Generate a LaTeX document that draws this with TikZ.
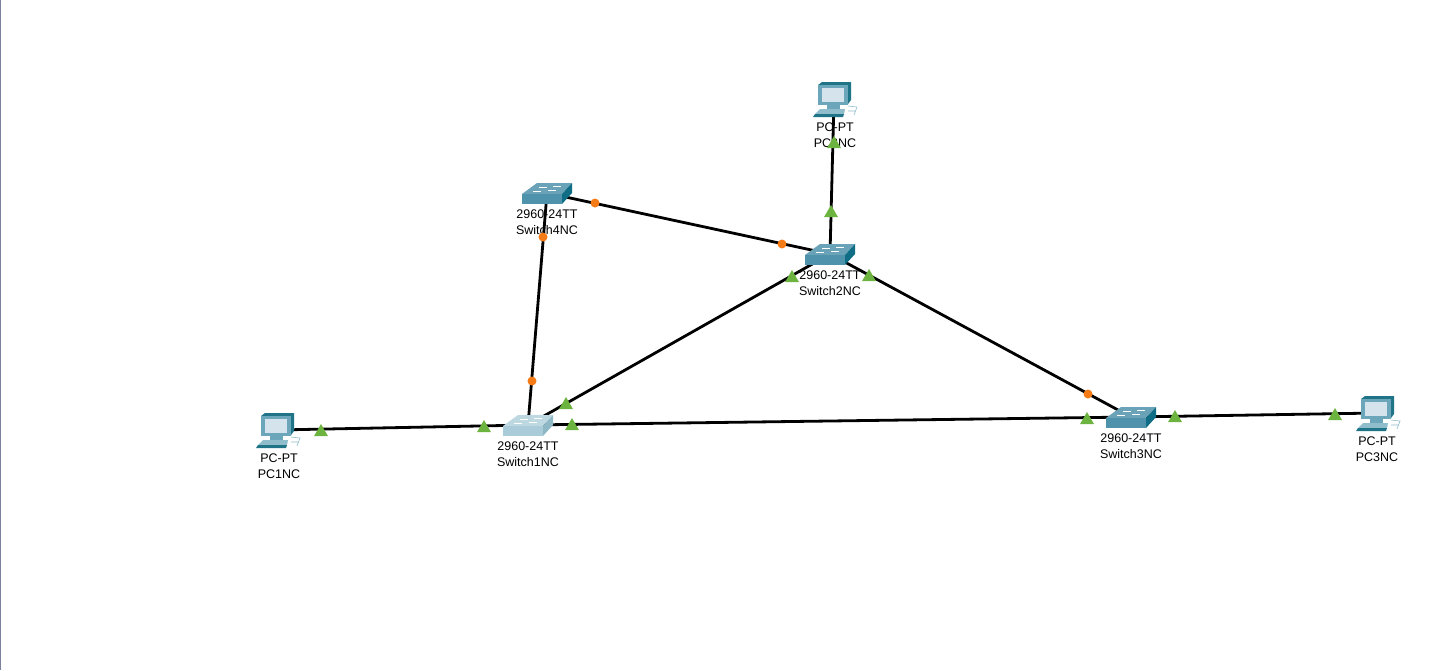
\documentclass[tikz,border=0pt]{standalone}
\usepackage{fontspec}
\setmainfont{Liberation Sans}
\usetikzlibrary{shapes.geometric}
\definecolor{linkup}{HTML}{6DB33F}
\definecolor{linkwait}{HTML}{F47B16}
\definecolor{framecol}{HTML}{7C7F9E}
\definecolor{pcface}{HTML}{6BA6BA}
\definecolor{pcside}{HTML}{1F7488}
\definecolor{pcscreen}{HTML}{D5E4EC}
\definecolor{pckeys}{HTML}{8FBDCB}
\definecolor{swtop}{HTML}{6AA3B8}
\definecolor{swfront}{HTML}{4E92AB}
\definecolor{swside}{HTML}{0F6E85}
\definecolor{swtoplight}{HTML}{BED8E2}
\definecolor{swfrontlight}{HTML}{AACCDA}
\definecolor{swsidelight}{HTML}{8FB8C7}

\tikzset{
  device/.style={inner sep=0pt, minimum size=1pt},
  devlabel/.style={align=center, font=\fontsize{12.5}{16}\selectfont, text=black, inner sep=0pt},
  link/.style={line width=2.8pt, black},
  upmark/.style={regular polygon, regular polygon sides=3, fill=linkup, inner sep=0pt, minimum size=16, yshift=-2pt},
  waitmark/.style={circle, fill=linkwait, inner sep=0pt, minimum size=9},
  pics/switchicon/.style n args={3}{code={
    \fill[#1] (-25,1) -- (-10,-10) -- (25,-10) -- (15,1) -- cycle;
    \fill[#2] (-25,1) rectangle (15,11);
    \fill[#3] (15,1) -- (25,-10) -- (25,0) -- (15,11) -- cycle;
    \draw[white, line width=0.7pt] (-8,-6) -- (0,-6) (6,-7) -- (14,-7) (-14,-2) -- (-6,-2) (1,-3) -- (9,-3);
  }},
  pics/pcicon/.style={code={
    % mouse
    \fill[white] (14,5) -- (24,5) -- (20,15) -- (12,15) -- cycle;
    \draw[pckeys, line width=0.6pt] (14,5) -- (23,6) -- (20,14) (14,10) -- (21,10);
    % monitor
    \fill[pcside] (-16,-16) -- (-12,-19) -- (17,-19) -- (17,-1) -- (14,3) -- (14,-16) -- cycle;
    \fill[pcface] (-16,-16) rectangle (14,4);
    \fill[pcscreen] (-12,-13) rectangle (10,1);
    % keyboard
    \fill[pcface] (-7,4) rectangle (6,8);
    \fill[pckeys] (-14,8) -- (11,8) -- (10,13) -- (-19,13) -- cycle;
    \fill[pcside] (-19,13) -- (10,13) -- (9,16) -- (-21,16) -- cycle;
  }},
}

\begin{document}
\begin{tikzpicture}[x=1pt, y=-1pt]
\useasboundingbox (0,0) rectangle (1431,670);
\fill[white] (0,0) rectangle (1431,670);
\fill[framecol] (0,0) rectangle (1,670);

% devices
\node[device] (pc1) at (277,430) {};
\node[device] (pc2) at (834,100) {};
\node[device] (pc3) at (1377,413) {};
\node[device] (sw1) at (528,425) {};
\node[device] (sw2) at (830,254) {};
\node[device] (sw3) at (1131,417) {};
\node[device] (sw4) at (547,193) {};

% links
\draw[link] (pc1) -- (sw1);
\draw[link] (pc2) -- (sw2);
\draw[link] (pc3) -- (sw3);
\draw[link] (sw1) -- (sw3);
\draw[link] (sw1) -- (sw2);
\draw[link] (sw2) -- (sw3);
\draw[link] (sw2) -- (sw4);
\draw[link] (sw4) -- (sw1);

% icons
\pic at ([yshift=-2pt]pc1) {pcicon};
\pic at ([yshift=-1pt]pc2) {pcicon};
\pic at ([yshift=-2pt]pc3) {pcicon};
\pic at (sw1) {switchicon={swtoplight}{swfrontlight}{swsidelight}};
\pic at (sw2) {switchicon={swtop}{swfront}{swside}};
\pic at (sw3) {switchicon={swtop}{swfront}{swside}};
\pic at (sw4) {switchicon={swtop}{swfront}{swside}};

% labels
\node[devlabel] (pc1label) at (279,466) {PC-PT\\PC1NC};
\node[devlabel] (pc2label) at (835,135) {PC-PT\\PC2NC};
\node[devlabel] (pc3label) at (1377,449) {PC-PT\\PC3NC};
\node[devlabel] (sw1label) at (528,454) {2960-24TT\\Switch1NC};
\node[devlabel] (sw2label) at (830,283) {2960-24TT\\Switch2NC};
\node[devlabel] (sw3label) at (1131,446) {2960-24TT\\Switch3NC};
\node[devlabel] (sw4label) at (547,222) {2960-24TT\\Switch4NC};

% link lights
\node[upmark] (up1) at (321,430) {};
\node[upmark] (up2) at (484,426) {};
\node[upmark] (up3) at (572,424) {};
\node[upmark] (up4) at (1087,418) {};
\node[upmark] (up5) at (1175,416) {};
\node[upmark] (up6) at (1335,414) {};
\node[upmark] (up7) at (566,403) {};
\node[upmark] (up8) at (792,276) {};
\node[upmark] (up9) at (869,275) {};
\node[upmark] (up10) at (831,211) {};
\node[upmark] (up11) at (834,142) {};
\node[waitmark] (wait1) at (595,203) {};
\node[waitmark] (wait2) at (782,244) {};
\node[waitmark] (wait3) at (543,237) {};
\node[waitmark] (wait4) at (532,381) {};
\node[waitmark] (wait5) at (1088,394) {};
\end{tikzpicture}
\end{document}
